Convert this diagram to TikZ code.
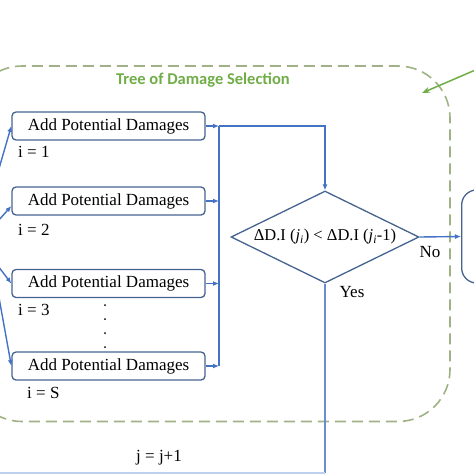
\documentclass[tikz,border=0pt]{standalone}
\usepackage{fontspec}
\setmainfont{Liberation Serif}
\newfontfamily\titlefont{Carlito}
\usetikzlibrary{arrows.meta,shapes.geometric}
\definecolor{linkblue}{HTML}{4472C4}
\definecolor{boxblue}{HTML}{45638F}
\definecolor{treegreen}{HTML}{70AD47}
\definecolor{dashgreen}{HTML}{9FB285}
\definecolor{barblue}{HTML}{BFD0EE}

\begin{document}
\begin{tikzpicture}[x=1pt,y=-1pt,
    addbox/.style={draw=boxblue, line width=1.3pt, rounded corners=4pt, minimum width=193pt,
        minimum height=28pt, inner sep=0pt, font=\fontsize{17}{19}\selectfont},
    link/.style={linkblue, line width=1.4pt, -{Latex[length=6pt,width=5pt]}},
    lbl/.style={inner sep=0pt, font=\fontsize{17}{19}\selectfont}]
    \clip (0,0) rectangle (474,474);
    \useasboundingbox (0,0) rectangle (474,474);
    % Dashed frame of the tree and its title.
        \draw[dashgreen, line width=1.6pt, dash pattern=on 11pt off 6pt, rounded corners=52pt]
            (-30,66) rectangle (450,421.5);
        \node[text=treegreen, font=\titlefont\bfseries\fontsize{16.5}{18}\selectfont]
            (title) at (203,80) {Tree of Damage Selection};
        \coordinate (gsrc) at (480,68);
        \coordinate (gtip) at (422,93);
        \draw[treegreen, line width=1.5pt, -{Stealth[length=8pt,width=6pt]}] (gsrc) -- (gtip);
    % Below nodes are the damage boxes.
        \node[addbox] (add1) at (108.5,126) {Add Potential Damages};
        \node[addbox] (add2) at (108.5,201) {Add Potential Damages};
        \node[addbox] (add3) at (108.5,283.5) {Add Potential Damages};
        \node[addbox] (addS) at (108.5,366) {Add Potential Damages};
        \node[lbl, anchor=west] (i1) at (18,152) {i = 1};
        \node[lbl, anchor=west] (i2) at (18,230) {i = 2};
        \node[lbl, anchor=west] (i3) at (18,310) {i = 3};
        \node[lbl, anchor=west] (iS) at (27,393) {i = S};
        \foreach \y in {305,319,333,347}
            \fill (105,\y) circle (1);
    % Arrows coming in from the left.
        \coordinate (in1) at (-2,172);
        \coordinate (in2) at (-2,221);
        \coordinate (in3) at (-2,266);
        \coordinate (inS) at (-2,292);
        \draw[link] (in1) -- (add1.west);
        \draw[link] (in2) -- ([yshift=-5pt]add2.west);
        \draw[link] (in3) -- (add3.west);
        \draw[link] (inS) -- (addS.west);
    % Decision and its exits.
        \node[diamond, draw=boxblue, line width=1.3pt, aspect=2.04, minimum width=188pt,
            minimum height=92pt, inner sep=0pt, font=\fontsize{16.5}{18}\selectfont] (dec) at (325,237)
            {ΔD.I (\textit{j\textsubscript{i}}) < ΔD.I (\textit{j\textsubscript{i}}-1)};
        \node[draw=boxblue, line width=1.3pt, rounded corners=15pt, minimum width=80pt,
            minimum height=93pt, anchor=west] (next) at (461,236.5) {};
        \coordinate (bus) at (219,0);
        \draw[link] (add1.east) -- (add1.east -| bus);
        \draw[link] (add2.east) -- (add2.east -| bus);
        \draw[link] (add3.east) -- (add3.east -| bus);
        \draw[link] (addS.east) -- (addS.east -| bus);
        \draw[linkblue, line width=1.4pt] (add1.east -| bus) -- (addS.east -| bus);
        \draw[link] (add1.east -| bus) -- (add1.east -| dec.north) -- (dec.north);
        \draw[link] (dec.east) -- (next.west);
        \node[lbl] (no) at (430,252) {No};
        \node[lbl] (yes) at (352,292) {Yes};
    % This draws the loop back.
        \coordinate (barend) at (0,473);
        \draw[linkblue!80, line width=1.2pt] (dec.south) -- (dec.south |- barend);
        \draw[barblue, line width=3pt] (dec.south |- barend) -- (barend);
        \node[lbl] (jinc) at (159,458) {j = j+1};
\end{tikzpicture}
\end{document}
